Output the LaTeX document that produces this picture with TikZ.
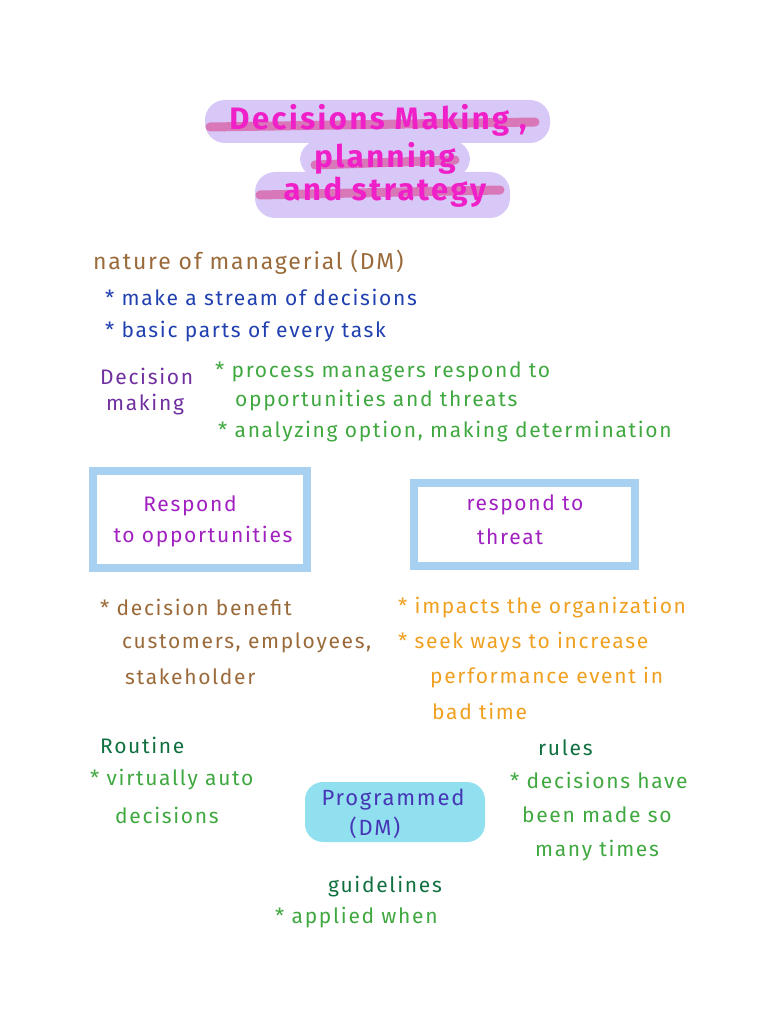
\documentclass[tikz,border=0pt]{standalone}
\usepackage{fontspec}
\setmainfont[LetterSpace=8]{Fira Sans}
\definecolor{ttl}{HTML}{F020C8}
\definecolor{lav}{HTML}{D8C8F8}
\definecolor{bar}{HTML}{D878B8}
\definecolor{brn}{HTML}{9A6A3A}
\definecolor{blu}{HTML}{2040B0}
\definecolor{pur}{HTML}{7030A0}
\definecolor{grn}{HTML}{40A840}
\definecolor{dgrn}{HTML}{107040}
\definecolor{org}{HTML}{F0A020}
\definecolor{vio}{HTML}{A020C0}
\definecolor{boxb}{HTML}{A8D0F0}
\definecolor{cyb}{HTML}{90E0F0}
\begin{document}
\begin{tikzpicture}[x=1pt,y=-1pt,
  t/.style={anchor=west,inner sep=0pt,font=\fontsize{21}{24}\selectfont},
  c/.style={anchor=center,inner sep=0pt,font=\fontsize{21}{24}\selectfont},
  ttlf/.style={anchor=center,inner sep=0pt,text=ttl,font=\fontsize{31}{33}\selectfont\bfseries},
  frame/.style={draw=boxb,line width=8pt}]
\useasboundingbox (0,0) rectangle (768,1024);
% title highlight
\fill[lav,rounded corners=20pt] (205,100) rectangle (550,143);
\fill[lav,rounded corners=20pt] (300,140) rectangle (470,178);
\fill[lav,rounded corners=20pt] (255,172) rectangle (510,218);
\draw[bar,line width=9pt,line cap=round] (210,127) -- (535,122);
\draw[bar,line width=9pt,line cap=round] (315,165) -- (455,160);
\draw[bar,line width=9pt,line cap=round] (260,195) -- (500,190);
\node[ttlf] (t1) at (378,120) {Decisions Making ,};
\node[ttlf] (t2) at (385,158) {planning};
\node[ttlf] (t3) at (385,192) {and strategy};
\node[t,text=brn,font=\fontsize{23}{25}\selectfont] (n1) at (93,262) {nature of managerial (DM)};
\node[t,text=blu] (n2) at (105,297) {* make a stream of decisions};
\node[t,text=blu] (n3) at (105,332) {* basic parts of every task};
\node[t,text=pur] (d1) at (100,376) {Decision};
\node[t,text=pur] (d2) at (106,405) {making};
\node[t,text=grn] (g1) at (215,372) {* process managers respond to};
\node[t,text=grn] (g2) at (235,401) {opportunities and threats};
\node[t,text=grn] (g3) at (218,432) {* analyzing option, making determination};
\draw[frame] (93,471) rectangle (307,568);
\draw[frame] (414,483) rectangle (635,566);
\node[c,text=vio] (b1) at (190,506) {Respond};
\node[c,text=vio] (b2) at (203,537) {to opportunities};
\node[c,text=vio] (b3) at (525,505) {respond to};
\node[c,text=vio] (b4) at (510,537) {threat};
\node[t,text=brn] (o1) at (100,607) {* decision benefit};
\node[t,text=brn] (o2) at (122,643) {customers, employees,};
\node[t,text=brn] (o3) at (125,677) {stakeholder};
\node[t,text=org] (r1) at (398,608) {* impacts the organization};
\node[t,text=org] (r2) at (398,643) {* seek ways to increase};
\node[t,text=org] (r3) at (430,678) {performance event in};
\node[t,text=org] (r4) at (432,711) {bad time};
\node[t,text=dgrn] (p1) at (100,745) {Routine};
\node[t,text=grn] (p2) at (90,780) {* virtually auto};
\node[t,text=grn] (p3) at (115,815) {decisions};
\node[t,text=dgrn] (q1) at (538,748) {rules};
\node[t,text=grn] (q2) at (510,780) {* decisions have};
\node[t,text=grn] (q3) at (522,815) {been made so};
\node[t,text=grn] (q4) at (535,851) {many times};
\fill[cyb,rounded corners=18pt] (305,782) rectangle (485,842);
\node[c,text=blu!70!vio,font=\fontsize{22}{24}\selectfont] (m1) at (393,800) {Programmed};
\node[c,text=blu!70!vio,font=\fontsize{22}{24}\selectfont] (m2) at (375,828) {(DM)};
\node[t,text=dgrn] (u1) at (328,887) {guidelines};
\node[t,text=grn] (u2) at (275,918) {* applied when};
\end{tikzpicture}
\end{document}
